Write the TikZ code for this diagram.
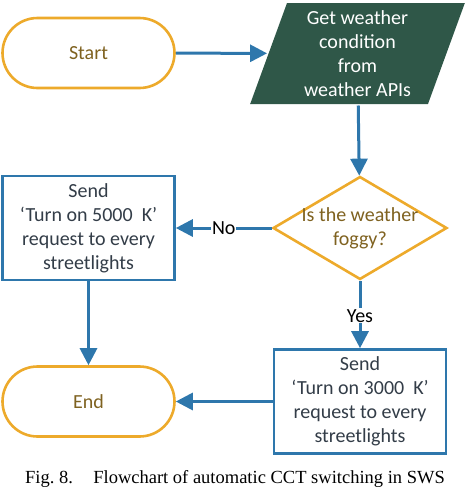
\documentclass[tikz,border=0pt]{standalone}
\usepackage{fontspec}
\setmainfont{Carlito}
\newfontfamily\captionfont{Liberation Serif}
\usetikzlibrary{arrows.meta,shapes.geometric,positioning}

\definecolor{termorange}{HTML}{EDAA2B}
\definecolor{termtext}{HTML}{7F6220}
\definecolor{flowblue}{HTML}{2E77AC}
\definecolor{iogreen}{HTML}{2F5748}
\definecolor{boxtext}{HTML}{333D48}

\begin{document}
\begin{tikzpicture}[x=1pt,y=-1pt,>={Triangle[length=17pt,width=17pt]},->,
  line width=3pt,
  every node/.style={font=\fontsize{20}{24}\selectfont, align=center},
  terminal/.style={draw=termorange, fill=white, rounded corners=35pt,
    minimum width=172pt, minimum height=70pt, text=termtext, line width=2.6pt},
  iobox/.style={trapezium, trapezium left angle=72, trapezium right angle=108,
    trapezium stretches=true, fill=iogreen, minimum width=215pt,
    minimum height=101pt, text=white, inner sep=0pt},
  decision/.style={diamond, draw=termorange, fill=white, line width=2.6pt,
    minimum width=174pt, minimum height=103pt, inner sep=0pt},
  sendbox/.style={draw=flowblue, fill=white, minimum width=172pt,
    minimum height=104pt, text=boxtext, line width=2.6pt},
  edgelabel/.style={fill=white, inner sep=1pt, text=black}]
\useasboundingbox (0,0) rectangle (474,488);

\node[terminal] (start) at (88.5,53) {Start};
\node[iobox] (getweather) at (357.5,53.5) {Get weather\\condition\\from\\weather APIs};
\node[decision] (foggy) at (360,228) {};
\node[text=termtext] (foggytext) at (360,228) {Is the weather\\foggy?};
\node[sendbox] (send5000) at (88.5,228) {Send\\‘Turn on 5000\ \ K’\\request to every\\streetlights};
\node[sendbox] (send3000) at (360,401.5) {Send\\‘Turn on 3000\ \ K’\\request to every\\streetlights};
\node[terminal] (end) at (88.5,401.5) {End};

\node[font=\captionfont\fontsize{18.5}{20}\selectfont, anchor=base] (caption) at (235,483.5)
  {Fig.~8.\hspace{1.1em}Flowchart of automatic CCT switching in SWS};

\begin{scope}[draw=flowblue]
\draw (start)--(getweather);
\draw (getweather)--(foggy);
\draw (foggy)--node[edgelabel] {No} (send5000);
\draw (foggy)--node[edgelabel, pos=0.52] {Yes} (send3000);
\draw (send5000)--(end);
\draw (send3000)--(end);
\end{scope}
\end{tikzpicture}
\end{document}
